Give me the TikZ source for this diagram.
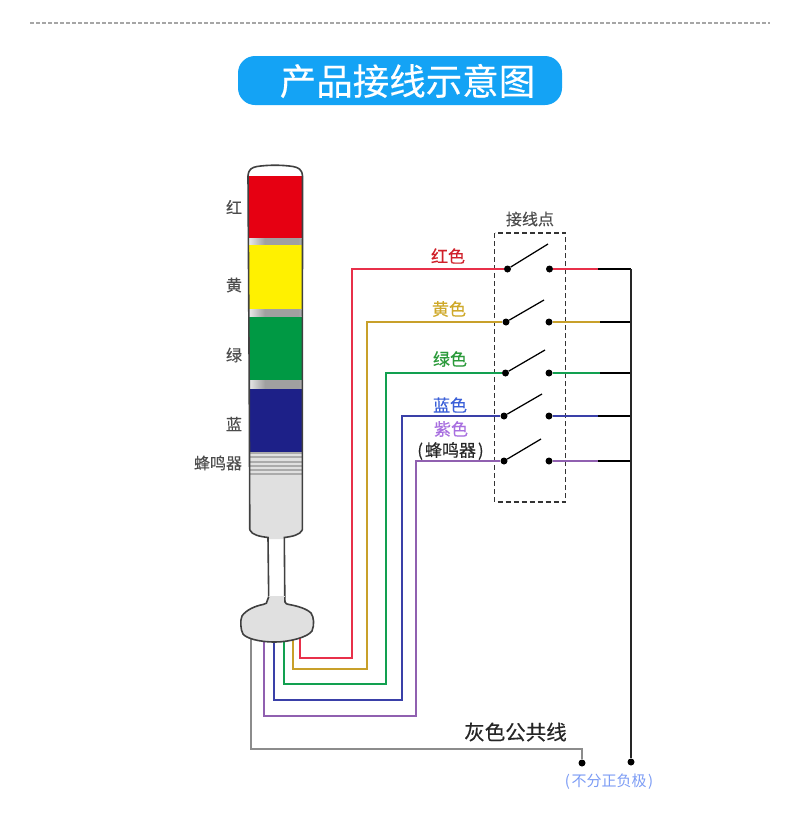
\documentclass[tikz,border=0pt]{standalone}
\usepackage{fontspec}
\setmainfont{Noto Sans CJK SC}
\newfontfamily\medf[FakeBold=0.25]{Noto Sans CJK SC}
\definecolor{bandl}{HTML}{E8E8E8}
\definecolor{bandd}{HTML}{A0A0A0}
\pgfdeclarehorizontalshading{bandshade}{100bp}{color(0bp)=(bandl); color(25bp)=(bandl); color(40bp)=(bandd); color(72bp)=(bandd); color(85bp)=(bandl); color(100bp)=(bandl)}
\definecolor{cred}{HTML}{E60012}
\definecolor{cyel}{HTML}{FFF100}
\definecolor{cgrn}{HTML}{009944}
\definecolor{cblu}{HTML}{1D2088}
\definecolor{wred}{HTML}{E8304A}
\definecolor{wyel}{HTML}{C8A02A}
\definecolor{wgrn}{HTML}{12A050}
\definecolor{wblu}{HTML}{3A40A8}
\definecolor{wpur}{HTML}{9060B0}
\definecolor{wgry}{HTML}{8C8C8C}
\definecolor{body}{HTML}{E0E0E0}
\definecolor{pill}{HTML}{14A3F5}
\definecolor{tred}{HTML}{D0202A}
\definecolor{tyel}{HTML}{CFA92A}
\definecolor{tgrn}{HTML}{2A9A3A}
\definecolor{tblu}{HTML}{3A5FD8}
\definecolor{tpur}{HTML}{A86FE0}
\definecolor{tnote}{HTML}{7C9CF5}
\tikzset{
  wire/.style={line width=1.25pt,line join=miter},
  bus/.style={line width=1.25pt,black},
  dot/.style={circle,fill=black,inner sep=0pt,minimum size=7pt},
  blade/.style={line width=1.25pt,black},
  sidelabel/.style={text=black!70,inner sep=0pt,font=\medf\fontsize{16}{16}\selectfont},
  wirelabel/.style={inner sep=0pt,font=\medf\fontsize{17}{17}\selectfont},
  outline/.style={draw=black!75,line width=1.6pt},
}
\begin{document}
\begin{tikzpicture}[x=1pt,y=-1pt]
\useasboundingbox (0,0) rectangle (790,820);
\fill[white] (0,0) rectangle (790,820);
% top rule
\draw[black!35,line width=1.2pt,dash pattern=on 4pt off 2pt] (30,23) -- (770,23);
% title
\fill[pill,rounded corners=17pt] (238,56) rectangle (562,105);
\node[text=white,inner sep=0pt,font=\medf\fontsize{36.5}{36.5}\selectfont] (title) at (407.5,81) {产品接线示意图};
% terminals
\node[dot] (rL) at (507.5,269) {};   \node[dot] (rR) at (549.5,269) {};
\node[dot] (yL) at (506,322) {};     \node[dot] (yR) at (549,322) {};
\node[dot] (gL) at (505.5,373) {};   \node[dot] (gR) at (549,373) {};
\node[dot] (bL) at (504,416) {};     \node[dot] (bR) at (549,416) {};
\node[dot] (pL) at (504,461) {};     \node[dot] (pR) at (549,461) {};
\coordinate (rT) at (548,244);
\coordinate (yT) at (544,300);
\coordinate (gT) at (545,350);
\coordinate (bT) at (542,394);
\coordinate (pT) at (541,439);
\draw[blade] (rL) -- (rT);
\draw[blade] (yL) -- (yT);
\draw[blade] (gL) -- (gT);
\draw[blade] (bL) -- (bT);
\draw[blade] (pL) -- (pT);
% switch box
\draw[black!80,line width=1.5pt,dash pattern=on 5pt off 3pt] (494.5,233) rectangle (565.5,502);
\node[sidelabel] (jxd) at (530,219) {接线点};
% wires from base to switches
\coordinate (rB) at (300,630);
\coordinate (yB) at (293,630);
\coordinate (gB) at (284,630);
\coordinate (bB) at (274,630);
\coordinate (pB) at (264,630);
\coordinate (wB) at (251,630);
\draw[wire,wred] (rB) |- (352,658) |- (rL);
\draw[wire,wyel] (yB) |- (367,669) |- (yL);
\draw[wire,wgrn] (gB) |- (386,684) |- (gL);
\draw[wire,wblu] (bB) |- (402,700) |- (bL);
\draw[wire,wpur] (pB) |- (416,716) |- (pL);
\node[dot] (cm) at (582,763) {};
\draw[wire,wgry] (wB) |- (582,749) -- (cm);
% right-hand side
\node[dot] (bus) at (631,762) {};
\coordinate (rM) at (598,269);
\coordinate (yM) at (600,322);
\coordinate (gM) at (600,373);
\coordinate (bM) at (598,416);
\coordinate (pM) at (598,461);
\coordinate (rC) at (631,269);
\coordinate (yC) at (631,322);
\coordinate (gC) at (631,373);
\coordinate (bC) at (631,416);
\coordinate (pC) at (631,461);
\draw[wire,wred] (rR) -- (rM);
\draw[wire,wyel] (yR) -- (yM);
\draw[wire,wgrn] (gR) -- (gM);
\draw[wire,wblu] (bR) -- (bM);
\draw[wire,wpur] (pR) -- (pM);
\draw[bus] (rM) -- (rC);
\draw[bus] (yM) -- (yC);
\draw[bus] (gM) -- (gC);
\draw[bus] (bM) -- (bC);
\draw[bus] (pM) -- (pC);
\draw[line width=1.6pt,black!85] (rC) -- (bus);
% tower fills
\fill[cred] (248.5,176) rectangle (301.5,238);
\shade[shading=bandshade] (249,238) rectangle (301.5,245);
\fill[cyel] (248.5,245) rectangle (301.5,309);
\shade[shading=bandshade] (249,309) rectangle (301.5,316.5);
\fill[cgrn] (249,316.5) rectangle (302,380);
\shade[shading=bandshade] (249,380) rectangle (302,389);
\fill[cblu] (249,389) rectangle (302,452);
\fill[body] (249.5,452) -- (302,452) -- (302,530) .. controls (300,534) and (292,536) .. (284,537) -- (284,539) -- (268,539) -- (268,537) .. controls (260,536) and (252,534) .. (250.5,530) -- cycle;
\foreach \yy in {453,457,462,466,470,474}
  \draw[black!33,line width=1.2pt] (249.5,\yy) -- (302,\yy);
% tower outline
\draw[outline] (249.8,530) .. controls (252,535) and (260,536.5) .. (268,537.5) -- (268.7,597);
\draw[outline] (302.3,530) .. controls (300,535) and (292,536.5) .. (284.3,537.5) -- (284.8,597);
\draw[outline] (249.8,530) -- (249.2,380) -- (248,176) .. controls (248.5,169) and (252,167.5) .. (257,166.5) .. controls (268,164.8) and (282,164.8) .. (293,166.5) .. controls (298,167.5) and (302,169) .. (302.5,176) -- (302.3,530);
% base
\fill[body] (268.7,596) -- (284.8,596) -- (285,602) .. controls (285.5,604) and (287,604) .. (289,604.5) .. controls (298,606) and (307,609) .. (311,613) .. controls (314,617) and (314.5,625) .. (312,631) .. controls (308,637) and (290,642) .. (275,642) .. controls (258,642) and (246,638) .. (243,634) .. controls (240.5,630) and (240,620) .. (242,616) .. controls (246,610) and (255,606) .. (263,604.5) .. controls (266,604) and (267.5,603) .. (267.5,600) -- cycle;
\draw[outline] (284.8,597) -- (285,602) .. controls (285.5,604) and (287,604) .. (289,604.5) .. controls (298,606) and (307,609) .. (311,613) .. controls (314,617) and (314.5,625) .. (312,631) .. controls (308,637) and (290,642) .. (275,642) .. controls (258,642) and (246,638) .. (243,634) .. controls (240.5,630) and (240,620) .. (242,616) .. controls (246,610) and (255,606) .. (263,604.5) .. controls (266,604) and (267.5,603) .. (267.5,600) -- (268.7,597);
% tower labels
\node[sidelabel] (lr) at (234,207) {红};
\node[sidelabel] (ly) at (234,285) {黄};
\node[sidelabel] (lg) at (234,355) {绿};
\node[sidelabel] (lb) at (234,424) {蓝};
\node[sidelabel] (lz) at (218,463) {蜂鸣器};
% wire labels
\node[wirelabel,text=tred] (tr) at (448,256) {红色};
\node[wirelabel,text=tyel] (ty) at (449,309) {黄色};
\node[wirelabel,text=tgrn] (tg) at (450,359) {绿色};
\node[wirelabel,text=tblu] (tb) at (450,405) {蓝色};
\node[wirelabel,text=tpur] (tp) at (451,429) {紫色};
\node[wirelabel,text=black!85] (tz) at (450.5,451) {(\hspace{2pt}蜂鸣器\hspace{2pt})};
\node[inner sep=0pt,text=black!85,font=\medf\fontsize{20.5}{20.5}\selectfont] (tc) at (515.5,732) {灰色公共线};
\node[inner sep=0pt,text=tnote,font=\fontsize{15}{15}\selectfont] (tn) at (609,782) {(\hspace{1.5pt}不分正负极\hspace{1.5pt})};
\end{tikzpicture}
\end{document}
